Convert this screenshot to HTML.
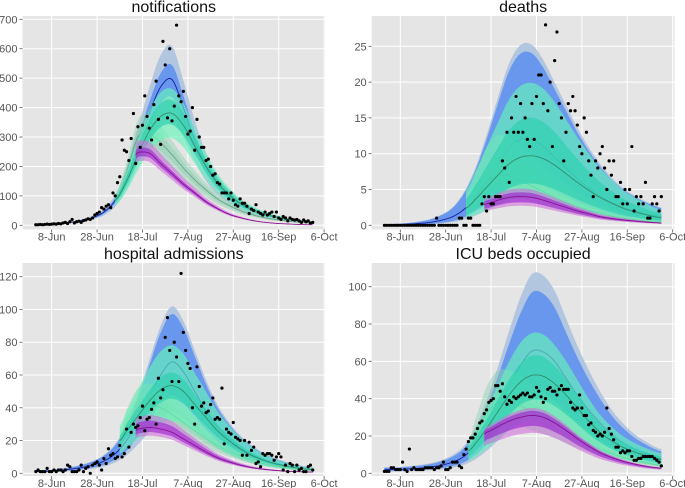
<!DOCTYPE html>
<html><head><meta charset="utf-8"><style>
html,body{margin:0;padding:0;background:#fff;}
svg{display:block;font-family:"Liberation Sans",sans-serif;}
</style></head><body>
<svg id="chart" width="685" height="488" viewBox="0 0 685 488" xmlns="http://www.w3.org/2000/svg"></svg>
<script>
// ---- data ----
const dateTicks = ['8-Jun','28-Jun','18-Jul','7-Aug','27-Aug','16-Sep','6-Oct'];
const dateTickDays = [7,27,47,67,87,107,127];
const blueDays = [0,5,10,15,20,25,30,35,40,45,50,55,60,65,70,75,80,85,90,95,100,105,110,115,120,122];
const laterDays = [40,45,50,55,60,65,70,75,80,85,90,95,100,105,110,115,120,122];
const purpleDays = [44,45,50,55,60,65,70,75,80,85,90,95,100,105,110,115,120,122];

const panelTitles = ['notifications','deaths','hospital admissions','ICU beds occupied'];
const yTicks1 = [0,100,200,300,400,500,600,700];
const yTicks2 = [0,5,10,15,20,25];
const yTicks3 = [0,20,40,60,80,100,120];
const yTicks4 = [0,20,40,60,80,100];
const greenStart = [35,36,37,37];

const blueMed1 = [3,4,6,10,16,26,45,85,160,270,380,470,495,400,290,200,140,100,72,52,38,28,20,15,11,10];
const greenMed1 = [85,150,240,320,370,380,340,270,200,145,105,75,55,40,30,22,16,12,11];
const paleMed1 = [85,180,300,310,280,240,195,155,120,90,68,50,37,27,20,15,11,8,7];
const purpleMed1 = [240,248,245,210,175,140,110,80,57,38,26,17,11,7,5,3,2,2];

const blueMed2 = [0.05,0.1,0.15,0.25,0.4,0.7,1.2,2.2,3.8,6,8.5,10.8,12,12,11,9.5,8,6.5,5.2,4.1,3.2,2.5,2,1.6,1.3,1.2];
const greenMed2 = [2.4,3.6,5.3,7,8.6,9.5,9.7,9.3,8.4,7.2,6,4.9,3.9,3.1,2.4,1.9,1.5,1.15,1.05];
const paleMed2 = [2.4,4,6,7,6.8,6.2,5.5,4.7,3.9,3.2,2.6,2.1,1.7,1.3,1,0.8,0.6,0.5,0.45];
const purpleMed2 = [2.9,3,3.5,3.9,4,3.9,3.5,3,2.5,2,1.6,1.2,0.95,0.75,0.6,0.45,0.35,0.3];

const blueMed3 = [1,1.3,1.8,2.5,3.5,5,7.5,12,20,32,46,60,68,62,50,38,28,21,15.5,11.5,8.5,6.3,4.7,3.5,2.6,2.4];
const greenMed3 = [20,26,35,44,51,53.5,50,42,34,26,20,15,11,8.2,6,4.5,3.3,2.5,2.3];
const paleMed3 = [20,30,40,42,40,36,31,26,21,17,13.5,10.5,8,6,4.6,3.5,2.6,2,1.8];
const purpleMed3 = [26,27,28,27,25,21,17,13,9.5,7,5,3.5,2.5,1.8,1.3,1,0.8,0.7];

const blueMed4 = [2,2,2.3,2.7,3.3,4.3,6,9,15,24,35,47,58,65.5,65,60,51,42,34,27,21,16.5,13,10.5,8.5,8];
const greenMed4 = [12,16,24,33,42,49,52.5,52,48,42,35,28,22,17.5,14,11.5,9.5,8,7.5];
const paleMed4 = [12,20,32,38,38,36,33,30,27,23,19.5,16,13,10.5,8.5,7,5.7,4.6,4.3];
const purpleMed4 = [21,22,25,28,30,31,30,27,23,18.5,14.5,11,8.5,6.5,5,3.8,3,2.8];

// band ratios [lo95, lo50, hi50, hi95]
const blueRatio = [[0.75,0.88,1.1,1.23],[0.35,0.5,2.0,2.1],[0.55,0.7,1.43,1.5],[0.5,0.65,1.48,1.63]];
const greenRatio = [[0.78,0.9,1.12,1.22],[0.4,0.6,1.55,2.05],[0.6,0.85,1.15,1.46],[0.55,0.75,1.2,1.43]];
const paleRatio = [[0.8,0.9,1.1,1.2],[0.6,0.8,1.4,1.8],[0.75,0.88,1.15,1.3],[0.7,0.85,1.15,1.45]];
const purpleRatio = [[0.88,0.94,1.06,1.16],[0.68,0.8,1.15,1.28],[0.82,0.9,1.15,1.27],[0.7,0.82,1.08,1.13]];

// observations (daily from 1-Jun)
const obs1 = [2,2,3,2,3,4,3,4,5,4, 6,5,8,10,6,12,20,8,12,14, 10,16,18,22,20,25,35,40,45,60, 55,65,70,60,110,100,145,165,290,255, 250,220,295,380,210,335,265,340,440,370, 330,290,410,490,360,275,625,545,365,600, 355,405,680,440,420,455,370,310,320,400, 255,360,300,265,265,220,225,200,170,175, 145,140,110,110,110,90,110,85,70,65, 90,75,75,65,40,55,50,70,45,40, 35,45,35,40,45,30,45,25,20,30, 25,15,25,20,18,20,15,10,18,12, 15,8,10];
const obs2 = [0,0,0,0,0,0,0,0,0,0, 0,0,0,0,0,0,0,0,0,0, 0,0,0,1,0,0,0,0,0,0, 0,0,0,1,1,0,0,1,1,0, 0,0,0, 3,4,2,4,3,3,4,4,4,9, 8,13,6,15,13,18,13,17,13,15, 12,11,17,12,18,21,21,17,28,16, 20,11,23,27,17,15,9,13,17,16, 18,16,14,11,10,15,13,9,7,4, 9,8,10,11,8,5,9,7,9,4, 4,6,3,5,3,5,11,2,4,3, 4,3,6,1,1,3,4,3,2,4];
const obs3 = [1,2,1,1,1,3,1,1,2,1, 2,2,1,2,5,4,1,1,1,2, 5,1,3,4,0,5,6,7,5,2, 9,6,15,11,12,9,10,17,10,12, 27,16,25,30,28,29,34,41,26,33, 34,39,43,30,58,46,51,83,95,75, 56,80,71,56,122,86,75,67,64,40, 30,65,53,41,43,37,38,42,46,33, 34,33,52,18,27,25,24,31,22,21, 20,11,20,11,19,14,16,6,7,4, 12,11,12,12,11,8,10,12,10,2, 5,1,6,5,1,5,2,3,1,1, 4,5,2];
const obs4 = [1,1,1,3,3,2,2,2,6,2, 1,13,2,3,2,2,2,2,3,3, 3,3,2,3,3,4,6,2,2,3, 6,6,6,4,3,10,13,17,19,19, 21,24,27,28,32,34,38,39,40,47, 47,44,48,41,37,39,38,41,40,41, 42,43,42,43,41,41,42,46,44,41, 38,40,45,46,44,44,42,45,47,45, 45,45,38,35,34,35,42,35,31,31, 26,27,23,22,20,21,20,22,35,24, 21,18,14,14,11,12,11,12,12,9, 7,7,8,8,9,9,9,9,9,8, 7,6,4];

// ---- rendering ----
const NS = 'http://www.w3.org/2000/svg';
const svg = document.getElementById('chart');
function mk(tag, attrs, parent){ const e=document.createElementNS(NS,tag); for(const k in attrs) e.setAttribute(k,attrs[k]); (parent||svg).appendChild(e); return e; }

const panels = [
  {x0:22.5,x1:325,top:16,bot:229.5,xa:35.8,ymin:0,ymax:700,py0:225.3,py1:19.3,ticks:yTicks1,blue:blueMed1,green:greenMed1,pale:paleMed1,purple:purpleMed1,obs:obs1,name:'notifications'},
  {x0:371.7,x1:674.5,top:16,bot:229.5,xa:384.4,ymin:0,ymax:25,py0:225.3,py1:46.3,ticks:yTicks2,blue:blueMed2,green:greenMed2,pale:paleMed2,purple:purpleMed2,obs:obs2,name:'deaths'},
  {x0:22.5,x1:325,top:263,bot:476,xa:35.8,ymin:0,ymax:120,py0:473.3,py1:276.7,ticks:yTicks3,blue:blueMed3,green:greenMed3,pale:paleMed3,purple:purpleMed3,obs:obs3,name:'hospital-admissions'},
  {x0:371.7,x1:674.5,top:263,bot:476,xa:384.4,ymin:0,ymax:100,py0:473.3,py1:286.7,ticks:yTicks4,blue:blueMed4,green:greenMed4,pale:paleMed4,purple:purpleMed4,obs:obs4,name:'icu-beds-occupied'}
];
const PXDAY = 2.27;

function smooth(days, vals){
  const out=[];
  for(let i=0;i<days.length-1;i++){
    const d0=days[i], d1=days[i+1];
    const p0=vals[Math.max(0,i-1)], p1=vals[i], p2=vals[i+1], p3=vals[Math.min(vals.length-1,i+2)];
    const n=Math.max(1,Math.round((d1-d0)*2));
    for(let k=0;k<n;k++){
      const t=k/n, t2=t*t, t3=t2*t;
      const v=0.5*((2*p1)+(-p0+p2)*t+(2*p0-5*p1+4*p2-p3)*t2+(-p0+3*p1-3*p2+p3)*t3);
      out.push([d0+(d1-d0)*t, Math.max(0,v)]);
    }
  }
  out.push([days[days.length-1], vals[vals.length-1]]);
  return out;
}

panels.forEach((p,pi)=>{
  const g = mk('g',{});
  
  
  const X = d => p.xa + PXDAY*d;
  const Y = v => p.py0 + (v-p.ymin)*(p.py1-p.py0)/(p.ymax-p.ymin);
  const bg = mk('rect',{x:p.x0,y:p.top,width:p.x1-p.x0,height:p.bot-p.top,fill:'#e5e5e5'},g);
  
  
  dateTickDays.forEach((d,i)=>{
    const gl = mk('line',{x1:X(d),x2:X(d),y1:p.top,y2:p.bot,stroke:'#fff','stroke-width':1},g);
    
    
    mk('line',{x1:X(d),x2:X(d),y1:p.bot,y2:p.bot+3,stroke:'#555','stroke-width':0.8},g);
    const t = mk('text',{x:X(d),y:p.bot+11,'text-anchor':'middle','font-size':11,fill:'#555'},g);
    t.textContent = dateTicks[i];
    
    
  });
  p.ticks.forEach(v=>{
    const gl = mk('line',{x1:p.x0,x2:p.x1,y1:Y(v),y2:Y(v),stroke:'#fff','stroke-width':1},g);
    
    
    mk('line',{x1:p.x0-3,x2:p.x0,y1:Y(v),y2:Y(v),stroke:'#555','stroke-width':0.8},g);
    const t = mk('text',{x:p.x0-5,y:Y(v)+4,'text-anchor':'end','font-size':11,fill:'#555'},g);
    t.textContent = String(v);
    
    
  });
  const title = mk('text',{x:(p.x0+p.x1)/2,y:p.top-4,'text-anchor':'middle','font-size':16,fill:'#111'},g);
  title.textContent = panelTitles[pi];
  
  

  const clipId='clip'+pi;
  const cp = mk('clipPath',{id:clipId},g);
  mk('rect',{x:p.x0,y:p.top,width:p.x1-p.x0,height:p.bot-p.top},cp);
  const plot = mk('g',{'clip-path':'url(#'+clipId+')'},g);

  function scenario(days, vals, ratio, cOuter, oOuter, cInner, oInner, cLine, name){
    const pts = smooth(days, vals);
    const band=(lo,hi,fill,op,nm)=>{
      let d='M'+pts.map(q=>X(q[0]).toFixed(1)+','+Y(q[1]*hi).toFixed(1)).join('L');
      d+='L'+pts.slice().reverse().map(q=>X(q[0]).toFixed(1)+','+Y(q[1]*lo).toFixed(1)).join('L')+'Z';
      const e=mk('path',{d:d,fill:fill,'fill-opacity':op,stroke:'none'},plot);
      
      
    };
    band(ratio[0],ratio[3],cOuter,oOuter,name+'-band-95');
    band(ratio[1],ratio[2],cInner,oInner,name+'-band-50');
    const l=mk('path',{d:'M'+pts.map(q=>X(q[0]).toFixed(1)+','+Y(q[1]).toFixed(1)).join('L'),fill:'none',stroke:cLine,'stroke-width':0.9,'stroke-opacity':0.8},plot);
    
    
  }
  const gDays=[greenStart[pi]].concat(laterDays);
  scenario(blueDays,p.blue,blueRatio[pi],'#b0c4de',0.95,'#6495ed',0.95,'#00008b','baseline');
  scenario(gDays,p.pale,paleRatio[pi],'#8fd0b0',0.45,'#7cc8a8',0.35,'#5a9878','early-scenario');
  scenario(gDays,p.green,greenRatio[pi],'#66f5b8',0.65,'#30d0b0',0.7,'#2e7d55','intervention');
  scenario(purpleDays,p.purple,purpleRatio[pi],'#d070d8',0.6,'#9a20d0',0.6,'#800080','strict-scenario');

  p.obs.forEach((v,d)=>{
    const c=mk('circle',{cx:X(d),cy:Y(v),r:1.6,fill:'#000'},plot);
    
    
  });
});
</script>
</body></html>
